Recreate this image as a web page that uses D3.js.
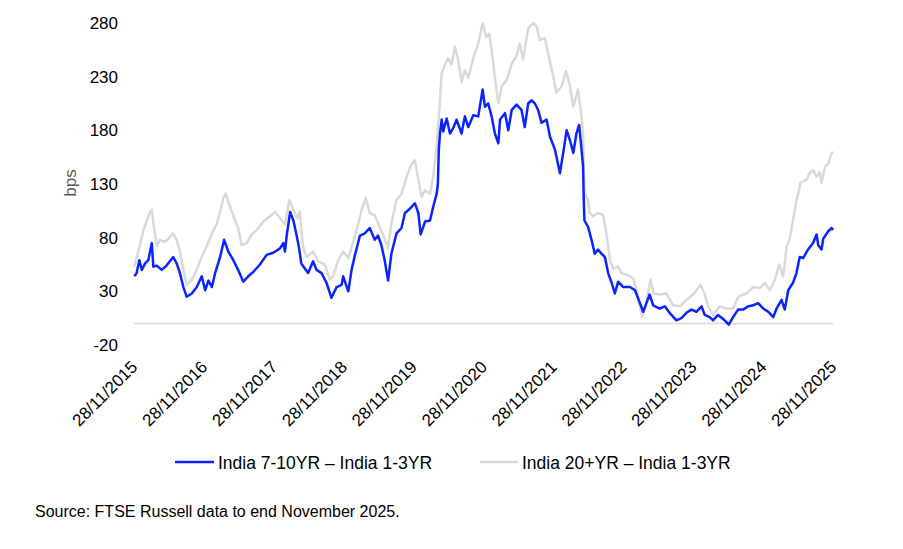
<!DOCTYPE html>
<html>
<head>
<meta charset="utf-8">
<script src="https://cdn.jsdelivr.net/npm/d3@7"></script>
<style>
  body { margin: 0; background: #fff; }
  svg { display: block; font-family: Arial, "Liberation Sans", sans-serif; }
</style>
</head>
<body>
<svg></svg>
<script>
// подписи и названия рядов
const seriesNames = ["India 7-10YR \u2013 India 1-3YR", "India 20+YR \u2013 India 1-3YR"];
const seriesColors = ["#0a24ff", "#d9d9d9"];
const yTicks = [-20, 30, 80, 130, 180, 230, 280];
const xTickDates = ["2015-11-28", "2016-11-28", "2017-11-28", "2018-11-28", "2019-11-28",
  "2020-11-28", "2021-11-28", "2022-11-28", "2023-11-28", "2024-11-28", "2025-11-28"];
const sourceText = "Source: FTSE Russell data to end November 2025.";

// India 7-10YR - India 1-3YR, bps
const spread710 = [
  ["2015-11-30",44],["2015-12-12",47],["2015-12-26",59],["2016-01-08",50],["2016-01-25",56],
  ["2016-02-11",59],["2016-02-29",75],["2016-03-08",53],["2016-03-26",54],["2016-04-21",50],
  ["2016-05-16",54],["2016-06-20",62],["2016-07-08",56],["2016-07-25",47],["2016-08-12",34],
  ["2016-08-29",25],["2016-09-25",28],["2016-10-21",34],["2016-11-16",44],["2016-12-04",31],
  ["2016-12-21",40],["2017-01-08",34],["2017-01-25",47],["2017-02-20",62],["2017-03-13",78],
  ["2017-04-04",67],["2017-04-30",59],["2017-05-25",50],["2017-06-21",39],["2017-07-17",44],
  ["2017-08-12",48],["2017-09-16",55],["2017-10-21",64],["2017-11-25",66],["2017-12-30",70],
  ["2018-01-16",75],["2018-01-25",67],["2018-02-03",82],["2018-02-21",104],["2018-03-10",96],
  ["2018-03-28",81],["2018-04-09",70],["2018-04-20",56],["2018-05-26",47],["2018-06-21",58],
  ["2018-07-09",50],["2018-08-04",47],["2018-08-30",38],["2018-09-25",24],["2018-10-22",34],
  ["2018-11-17",36],["2018-11-25",44],["2018-12-22",30],["2019-01-08",50],["2019-01-26",64],
  ["2019-02-21",82],["2019-03-18",84],["2019-04-13",89],["2019-05-09",78],["2019-05-26",82],
  ["2019-06-13",73],["2019-06-30",59],["2019-07-18",40],["2019-08-04",65],["2019-08-31",84],
  ["2019-09-26",89],["2019-10-14",103],["2019-11-09",107],["2019-12-05",112],["2019-12-23",103],
  ["2020-01-04",83],["2020-01-27",95],["2020-02-22",96],["2020-03-10",109],["2020-03-28",121],
  ["2020-04-03",130],["2020-04-08",162],["2020-04-14",177],["2020-04-23",190],["2020-05-01",179],
  ["2020-05-19",191],["2020-06-05",177],["2020-06-22",182],["2020-07-10",190],["2020-08-05",177],
  ["2020-08-22",193],["2020-09-09",183],["2020-10-05",194],["2020-10-31",193],["2020-11-23",218],
  ["2020-12-05",202],["2020-12-22",205],["2021-01-09",193],["2021-01-26",177],["2021-02-13",168],
  ["2021-02-22",190],["2021-03-20",196],["2021-04-06",180],["2021-04-24",199],["2021-05-19",204],
  ["2021-06-14",199],["2021-07-01",183],["2021-07-19",205],["2021-08-05",208],["2021-08-23",205],
  ["2021-09-09",199],["2021-09-27",187],["2021-10-23",190],["2021-11-10",174],["2021-12-06",162],
  ["2022-01-01",140],["2022-01-18",159],["2022-02-05",180],["2022-02-22",171],["2022-03-12",159],
  ["2022-03-28",177],["2022-04-11",185],["2022-04-24",162],["2022-05-02",146],["2022-05-05",118],
  ["2022-05-09",96],["2022-05-28",90],["2022-06-15",78],["2022-07-02",65],["2022-07-19",69],
  ["2022-08-06",65],["2022-08-24",62],["2022-09-10",47],["2022-09-28",38],["2022-10-15",28],
  ["2022-11-01",39],["2022-11-28",34],["2023-01-02",34],["2023-01-28",31],["2023-02-23",19],
  ["2023-03-12",11],["2023-03-29",19],["2023-04-15",27],["2023-05-03",17],["2023-06-06",14],
  ["2023-07-03",16],["2023-07-28",10],["2023-09-02",3],["2023-09-28",5],["2023-10-24",10],
  ["2023-11-19",13],["2023-12-16",11],["2024-01-11",16],["2024-01-28",8],["2024-02-23",6],
  ["2024-03-11",3],["2024-04-06",8],["2024-05-11",3],["2024-06-01",-1],["2024-06-24",6],
  ["2024-07-20",13],["2024-08-15",13],["2024-09-10",16],["2024-10-07",17],["2024-11-02",19],
  ["2024-11-28",14],["2024-12-24",11],["2025-01-20",6],["2025-02-06",14],["2025-03-04",22],
  ["2025-03-21",13],["2025-04-08",31],["2025-05-03",38],["2025-05-21",47],["2025-06-07",62],
  ["2025-06-25",61],["2025-07-21",69],["2025-08-16",75],["2025-09-03",83],["2025-09-12",73],
  ["2025-09-29",69],["2025-10-08",79],["2025-11-03",86],["2025-11-21",89],["2025-11-28",87]
];

// India 20+YR - India 1-3YR, bps
const spread20 = [
  ["2015-11-30",53],["2015-12-12",61],["2015-12-29",73],["2016-01-16",87],["2016-02-03",96],
  ["2016-02-20",104],["2016-02-29",106],["2016-03-11",90],["2016-03-26",72],["2016-04-12",78],
  ["2016-05-08",76],["2016-05-25",79],["2016-06-20",84],["2016-07-08",78],["2016-07-25",67],
  ["2016-08-12",50],["2016-08-29",36],["2016-09-25",41],["2016-10-21",50],["2016-11-16",62],
  ["2016-12-12",72],["2017-01-08",84],["2017-02-03",93],["2017-02-20",104],["2017-03-09",117],
  ["2017-03-21",121],["2017-04-13",109],["2017-05-09",96],["2017-05-25",89],["2017-06-13",73],
  ["2017-07-09",75],["2017-08-04",83],["2017-08-30",87],["2017-10-04",95],["2017-11-08",100],
  ["2017-12-04",104],["2017-12-30",98],["2018-01-25",92],["2018-02-17",115],["2018-03-10",106],
  ["2018-03-31",98],["2018-04-12",104],["2018-04-29",72],["2018-05-17",62],["2018-06-21",67],
  ["2018-07-17",58],["2018-08-21",55],["2018-09-16",41],["2018-10-04",44],["2018-10-30",59],
  ["2018-11-25",67],["2018-12-22",61],["2019-01-17",76],["2019-02-12",93],["2019-03-02",106],
  ["2019-03-23",117],["2019-04-13",103],["2019-05-09",101],["2019-06-04",90],["2019-06-30",79],
  ["2019-07-18",70],["2019-08-04",93],["2019-08-31",115],["2019-09-26",121],["2019-10-14",131],
  ["2019-10-23",137],["2019-11-18",149],["2019-12-05",152],["2019-12-23",134],["2020-01-09",118],
  ["2020-01-27",124],["2020-02-22",121],["2020-03-10",137],["2020-03-28",165],["2020-04-14",208],
  ["2020-04-23",233],["2020-05-09",241],["2020-05-27",247],["2020-06-14",241],["2020-07-01",258],
  ["2020-07-18",246],["2020-08-05",225],["2020-08-22",236],["2020-09-09",229],["2020-10-05",247],
  ["2020-10-31",261],["2020-11-23",280],["2020-12-11",267],["2020-12-28",270],["2021-01-15",246],
  ["2021-02-01",221],["2021-02-13",205],["2021-03-03",221],["2021-03-29",227],["2021-04-24",242],
  ["2021-05-19",249],["2021-06-05",261],["2021-06-22",246],["2021-07-19",275],["2021-08-14",280],
  ["2021-09-01",277],["2021-09-18",264],["2021-10-14",266],["2021-10-31",252],["2021-11-27",230],
  ["2021-12-14",215],["2022-01-10",221],["2022-02-01",235],["2022-02-19",224],["2022-03-12",202],
  ["2022-04-05",218],["2022-04-24",193],["2022-05-02",177],["2022-05-08",121],["2022-05-28",115],
  ["2022-06-05",103],["2022-06-23",100],["2022-07-19",103],["2022-08-14",101],["2022-09-01",84],
  ["2022-09-19",59],["2022-10-06",51],["2022-11-01",53],["2022-11-19",47],["2022-12-24",45],
  ["2023-01-19",42],["2023-02-06",31],["2023-02-23",16],["2023-03-07",6],["2023-03-25",16],
  ["2023-04-19",41],["2023-05-06",28],["2023-06-06",27],["2023-07-11",28],["2023-08-15",17],
  ["2023-09-20",16],["2023-10-24",22],["2023-11-28",27],["2024-01-06",36],["2024-01-28",27],
  ["2024-02-14",16],["2024-03-11",8],["2024-04-15",16],["2024-05-20",14],["2024-06-24",14],
  ["2024-07-21",25],["2024-09-02",28],["2024-10-07",34],["2024-11-11",33],["2024-12-07",38],
  ["2025-01-02",31],["2025-01-28",41],["2025-02-20",55],["2025-03-13",44],["2025-03-31",72],
  ["2025-04-16",79],["2025-05-03",96],["2025-05-21",115],["2025-06-03",124],["2025-06-10",131],
  ["2025-07-12",134],["2025-07-28",140],["2025-08-16",143],["2025-09-03",137],["2025-09-20",141],
  ["2025-09-29",131],["2025-10-17",146],["2025-11-03",149],["2025-11-21",159],["2025-11-28",160]
];

const width = 903;
const height = 549;
const parseDate = d3.timeParse("%Y-%m-%d");

let svg = d3.select("svg")
  .attr("width", width)
  .attr("height", height);

// шкалы
const scX = d3.scaleTime()
  .domain([parseDate(xTickDates[0]), parseDate(xTickDates[xTickDates.length - 1])])
  .range([134, 833]);

const scY = d3.scaleLinear()
  .domain([-20, 280])
  .range([345, 23]);

// нулевая линия
svg.append("line")
  .attr("x1", scX.range()[0])
  .attr("x2", scX.range()[1])
  .attr("y1", scY(0))
  .attr("y2", scY(0))
  .attr("stroke", "#d9d9d9")
  .attr("stroke-width", 1.5);

// ось Y — только подписи
svg.append("g")
  .attr("transform", `translate(${scX.range()[0]}, 0)`)
  .call(d3.axisLeft(scY).tickValues(yTicks).tickSize(0).tickPadding(16)
    .tickFormat(d => String(d)))
  .call(g => g.select(".domain").remove())
  .selectAll("text")
  .style("font-size", "17px")
  .style("font-family", "Arial, 'Liberation Sans', sans-serif")
  .attr("fill", "#000");

svg.append("text")
  .attr("transform", "translate(76, 183) rotate(-90)")
  .attr("text-anchor", "middle")
  .style("font-size", "17px")
  .attr("fill", "#595959")
  .text("bps");

// ось X — наклонные подписи
const axisTop = 345;
svg.append("g")
  .attr("transform", `translate(0, ${axisTop})`)
  .call(d3.axisBottom(scX)
    .tickValues(xTickDates.map(parseDate))
    .tickSize(0)
    .tickFormat(d3.timeFormat("%d/%m/%Y")))
  .call(g => g.select(".domain").remove())
  .selectAll("text")
  .attr("x", 0)
  .attr("y", 0)
  .attr("dy", 0)
  .attr("transform", `translate(4, ${368 - axisTop}) rotate(-45)`)
  .style("text-anchor", "end")
  .style("font-size", "17px")
  .style("font-family", "Arial, 'Liberation Sans', sans-serif")
  .attr("fill", "#000");

// линии: сначала серая, поверх синяя
const line = d3.line()
  .x(d => scX(parseDate(d[0])))
  .y(d => scY(d[1]));

[[spread20, 1], [spread710, 0]].forEach(([data, idx]) => {
  svg.append("path")
    .datum(data)
    .attr("d", line)
    .attr("fill", "none")
    .attr("stroke", seriesColors[idx])
    .attr("stroke-width", 2.5)
    .attr("stroke-linejoin", "round");
});

// легенда
const legendItems = [
  { x1: 175, x2: 214, tx: 218 },
  { x1: 480, x2: 518, tx: 522 }
];
legendItems.forEach((it, i) => {
  svg.append("line")
    .attr("x1", it.x1).attr("x2", it.x2)
    .attr("y1", 462).attr("y2", 462)
    .attr("stroke", seriesColors[i])
    .attr("stroke-width", 2.5);
  svg.append("text")
    .attr("x", it.tx)
    .attr("y", 469)
    .style("font-size", "17.5px")
    .attr("fill", "#000")
    .text(seriesNames[i]);
});

// источник
svg.append("text")
  .attr("x", 35)
  .attr("y", 517)
  .style("font-size", "16px")
  .attr("fill", "#000")
  .text(sourceText);
</script>
</body>
</html>
